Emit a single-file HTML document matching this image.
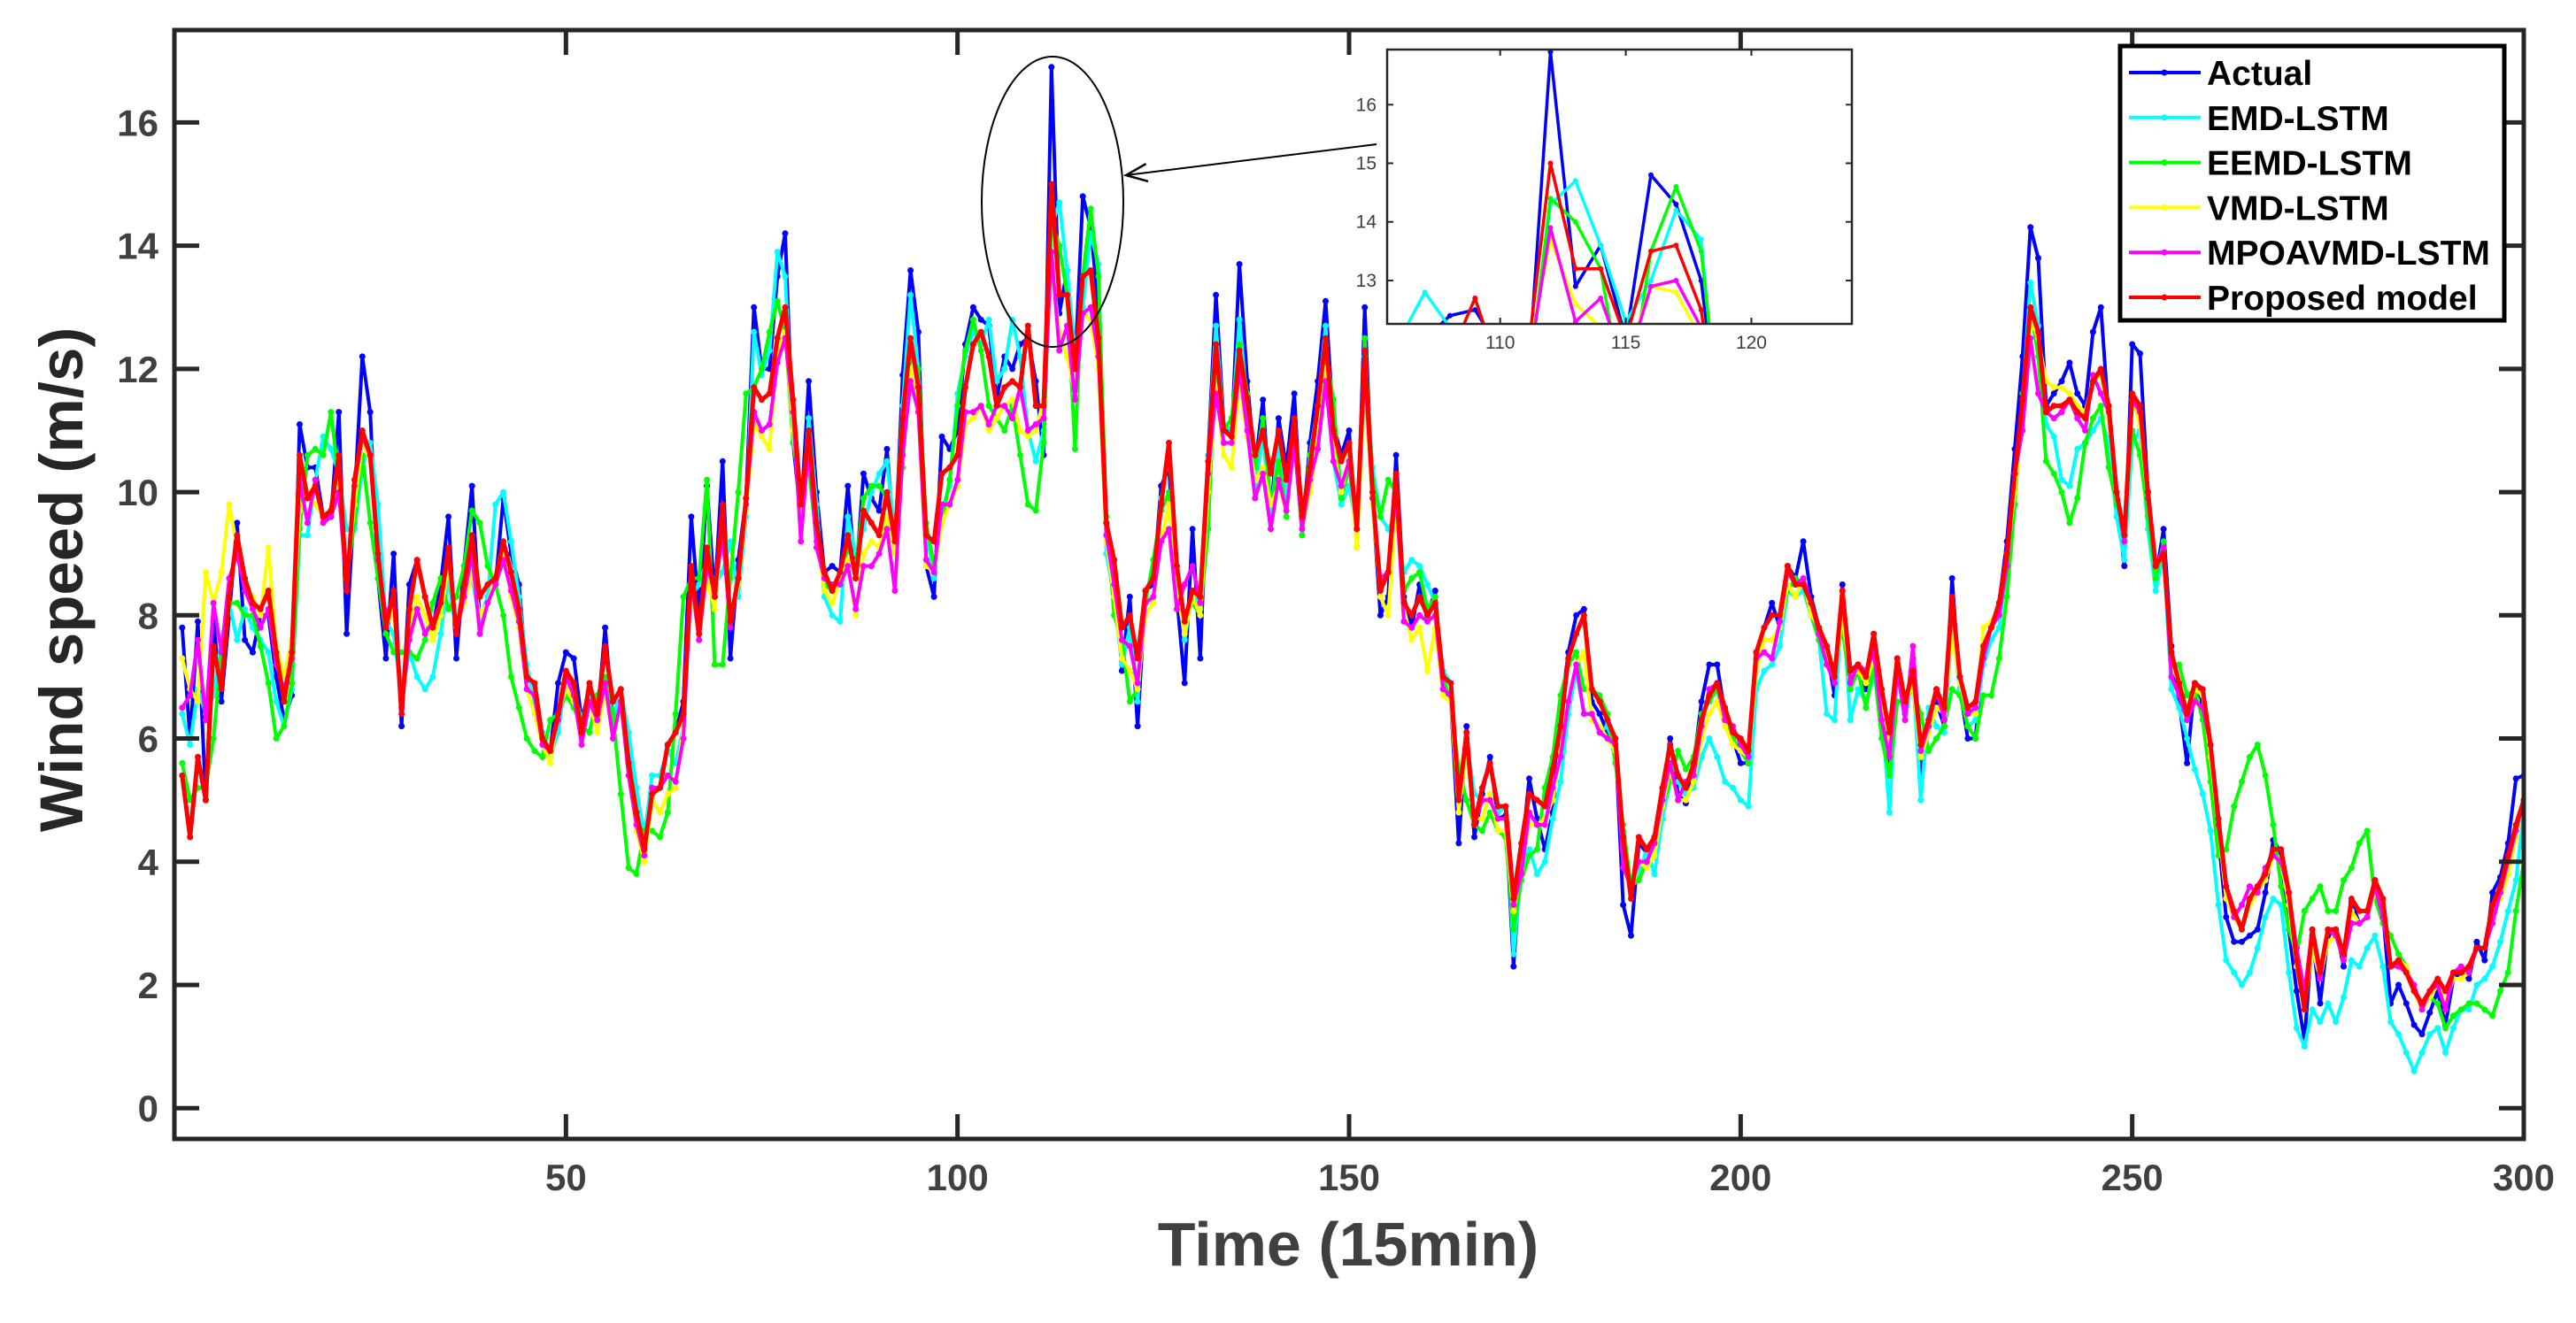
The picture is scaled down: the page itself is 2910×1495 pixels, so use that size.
<!DOCTYPE html>
<html><head><meta charset="utf-8"><style>
html,body{margin:0;padding:0;background:#fff;}
svg{display:block;font-family:"Liberation Sans",Arial,sans-serif;}
</style></head><body>
<svg id="chart" width="2910" height="1495" viewBox="0 0 2910 1495" xmlns="http://www.w3.org/2000/svg">
<defs>
<clipPath id="mainClip"><rect x="197" y="34" width="2654" height="1253"/></clipPath>
<clipPath id="insetClip"><rect x="1567" y="56" width="525" height="310"/></clipPath>
<marker id="arrowHead" markerWidth="28" markerHeight="24" refX="25" refY="12" orient="auto" markerUnits="userSpaceOnUse"><path d="M1,2 L25,12 L1,22" fill="none" stroke="#000" stroke-width="2.5"/></marker>
</defs>
<rect x="0" y="0" width="2910" height="1495" fill="#fff"/>
<g id="mainSeries" clip-path="url(#mainClip)"></g>
<g id="axes"></g>
<text x="93" y="655" transform="rotate(-90 93 655)" text-anchor="middle" font-size="69" font-weight="bold" fill="#262626">Wind speed (m/s)</text>
<text x="1523" y="1430" text-anchor="middle" font-size="70" font-weight="bold" fill="#404040">Time (15min)</text>
<ellipse cx="1189" cy="228" rx="80" ry="164" fill="none" stroke="#000" stroke-width="2"/>
<line x1="1555" y1="163" x2="1272" y2="198" stroke="#000" stroke-width="2" marker-end="url(#arrowHead)"/>
<rect x="1567" y="56" width="525" height="310" fill="#fff"/>
<g id="insetSeries" clip-path="url(#insetClip)"></g>
<g id="insetAxes"></g>
<g id="legend"></g>
</svg>
<script>
const seriesNames = ["Actual","EMD-LSTM","EEMD-LSTM","VMD-LSTM","MPOAVMD-LSTM","Proposed model"];
const seriesColors = ["#0000FF","#00FFFF","#00FF00","#FFFF00","#FF00FF","#FF0000"];
const xTicks = [50,100,150,200,250,300];
const yTicks = [0,2,4,6,8,10,12,14,16];
const insetXTicks = [110,115,120];
const insetYTicks = [13,14,15,16];
const actual = [7.8,6.0,7.9,5.0,7.9,6.6,8.0,9.5,7.6,7.4,
8.0,8.0,7.0,6.3,6.7,11.1,10.4,10.4,9.6,9.6,
11.3,7.7,9.9,12.2,11.3,8.6,7.3,9.0,6.2,8.5,
8.9,8.3,7.8,8.5,9.6,7.3,8.8,10.1,7.9,8.3,
8.5,9.9,9.0,8.5,7.0,6.8,6.0,5.8,6.9,7.4,
7.3,6.3,6.8,6.3,7.8,6.3,6.8,5.7,4.7,4.1,
5.2,5.2,5.9,6.1,6.6,9.6,8.0,10.1,8.3,10.5,
7.3,8.9,9.9,13.0,12.0,12.0,13.5,14.2,10.8,9.6,
11.8,10.0,8.7,8.8,8.7,10.1,8.6,10.3,9.9,9.7,
10.7,9.0,11.9,13.6,12.6,8.8,8.3,10.9,10.7,11.0,
12.4,13.0,12.8,12.7,11.5,12.2,12.0,12.4,12.5,11.8,
10.6,16.9,12.9,13.6,12.0,14.8,14.3,13.0,9.5,8.9,
7.1,8.3,6.2,8.4,8.5,10.1,10.4,8.3,6.9,9.4,
7.3,10.6,13.2,11.1,10.9,13.7,11.8,10.4,11.5,9.6,
11.2,10.4,11.6,9.3,10.8,11.8,13.1,11.1,10.6,11.0,
9.1,13.0,9.9,8.0,8.3,10.6,8.3,7.8,8.5,8.0,
8.4,6.8,6.6,4.3,6.2,4.4,5.1,5.7,4.7,4.75,
2.3,4.1,5.35,4.7,4.2,4.8,6.4,7.4,8.0,8.1,
6.6,6.4,6.1,6.0,3.3,2.8,4.3,4.15,4.4,5.1,
6.0,5.1,4.95,5.6,6.6,7.2,7.2,6.4,6.0,5.6,
5.6,7.4,7.8,8.2,7.8,8.8,8.6,9.2,8.3,7.8,
7.4,6.7,8.5,6.8,7.2,6.8,7.7,6.6,5.4,7.3,
6.4,7.3,5.35,6.2,6.6,6.2,8.6,6.8,6.0,6.0,
7.5,7.8,8.2,9.2,10.7,12.2,14.3,13.8,11.4,11.6,
11.8,12.1,11.6,11.4,12.6,13.0,11.2,9.9,8.8,12.4,
12.25,10.0,8.6,9.4,7.5,6.6,5.6,6.9,6.6,5.5,
4.4,3.1,2.7,2.7,2.8,2.9,3.5,4.35,4.15,2.9,
1.9,1.1,2.8,1.7,2.8,2.9,2.3,3.35,3.0,3.1,
3.7,3.2,1.7,2.0,1.7,1.35,1.2,1.55,1.9,1.35,
2.1,2.2,2.1,2.7,2.4,3.5,3.75,4.3,5.35,5.4];
const emdLstm = [6.4,5.9,6.8,6.4,6.7,7.6,8.2,7.6,8.1,7.8,
7.6,7.4,6.6,6.2,6.8,9.3,9.3,10.2,10.9,10.7,
10.3,9.4,9.4,10.4,10.8,9.8,7.9,7.7,6.7,7.4,
7.0,6.8,7.0,7.7,8.6,7.7,8.4,8.6,7.9,8.3,
9.8,10.0,9.2,8.3,7.2,6.6,6.1,5.7,6.1,7.0,
6.8,6.3,6.7,6.2,6.9,6.3,6.8,6.1,5.2,4.4,
5.4,5.4,5.8,5.6,6.2,8.3,8.5,8.9,8.5,8.7,
9.2,8.3,9.6,12.6,11.9,12.3,13.9,13.5,11.0,9.6,
11.2,9.8,8.3,8.0,7.9,9.6,9.0,9.4,10.0,10.3,
10.5,9.3,11.4,13.2,12.0,9.4,8.6,9.7,10.1,11.6,
12.2,12.6,12.4,12.8,11.8,12.0,12.8,12.2,11.0,10.5,
11.0,14.3,14.7,13.6,12.3,13.0,14.2,13.7,9.0,8.3,
7.2,7.8,6.6,8.4,8.6,9.9,10.6,8.8,7.6,8.4,
8.1,10.6,12.7,11.1,11.0,12.8,11.4,10.1,10.9,9.6,
10.8,9.9,11.0,9.3,10.6,11.4,12.7,10.5,9.8,10.1,
9.4,12.2,10.4,9.6,9.4,9.6,8.7,8.9,8.8,8.5,
8.2,7.1,6.9,5.2,6.0,5.1,5.0,5.0,4.8,4.9,
2.5,3.9,4.2,3.8,4.0,4.7,5.3,6.4,7.1,6.4,
6.4,6.1,6.2,5.8,4.5,3.6,3.8,4.2,3.8,4.7,
5.3,5.3,5.1,5.2,5.7,6.0,5.7,5.3,5.2,5.0,
4.9,6.8,7.1,7.2,7.5,8.4,8.3,8.4,8.0,7.6,
6.4,6.3,8.3,6.3,6.8,6.6,7.0,6.5,4.8,7.1,
6.3,7.0,5.0,6.5,6.2,6.1,7.8,6.8,6.2,6.3,
7.2,7.6,7.8,8.8,10.0,11.5,13.4,12.7,11.1,10.9,
10.2,10.1,10.7,10.8,11.0,11.2,10.8,9.6,8.9,10.8,
11.0,9.4,8.4,9.0,6.8,6.5,6.0,5.5,5.1,4.5,
3.3,2.4,2.2,2.0,2.2,2.6,3.1,3.4,3.3,2.2,
1.3,1.0,1.6,1.4,1.7,1.4,1.8,2.4,2.3,2.6,
2.8,2.3,1.4,1.2,0.9,0.6,0.9,1.2,1.3,0.9,
1.3,1.6,1.6,2.0,2.1,2.3,2.7,3.2,3.7,4.8];
const eemdLstm = [5.6,5.0,5.2,5.2,6.0,7.4,8.2,8.2,8.0,8.0,
7.5,6.9,6.0,6.2,6.9,9.4,10.6,10.7,10.6,11.3,
10.2,8.6,9.5,10.6,9.5,8.6,7.7,7.4,7.4,7.4,
7.3,7.6,8.2,8.6,8.1,8.3,8.8,9.7,9.5,8.8,
8.5,8.0,7.0,6.5,6.0,5.8,5.7,6.3,6.4,6.7,
6.5,6.2,6.1,6.7,7.0,6.4,5.1,3.9,3.8,4.5,
4.5,4.4,4.8,6.4,8.3,8.6,8.6,10.2,7.2,7.2,
8.6,10.0,11.6,11.7,12.0,12.6,13.1,12.6,10.8,10.0,
10.4,9.2,8.5,8.4,8.6,9.1,8.8,9.9,10.1,10.1,
9.9,9.3,10.4,12.2,12.0,9.5,8.8,9.5,10.2,11.4,
12.3,12.8,12.3,11.4,11.2,11.0,11.4,10.6,9.8,9.7,
10.8,14.4,14.0,13.2,10.7,13.5,14.6,13.5,9.6,8.0,
7.6,6.6,6.8,8.2,8.9,9.7,10.0,8.4,8.0,8.2,
8.0,9.4,12.2,11.0,11.2,12.4,11.6,10.4,11.2,9.8,
10.5,9.6,10.9,9.3,10.6,11.3,12.3,11.5,9.9,10.4,
9.4,12.5,10.2,9.6,10.2,10.0,8.4,8.6,8.7,8.1,
8.3,7.0,6.6,5.5,5.0,4.6,4.5,4.8,4.5,4.4,
2.9,3.7,4.1,4.2,5.2,5.7,6.7,7.2,7.4,6.8,
6.8,6.7,6.4,5.6,4.6,3.6,3.7,4.0,4.3,4.9,
5.3,5.8,5.5,5.7,6.4,6.6,6.8,6.3,6.0,5.8,
5.6,7.3,7.6,7.6,7.8,8.4,8.6,8.5,8.0,7.6,
7.2,7.2,7.8,6.8,7.1,6.5,7.2,6.0,5.4,6.6,
6.6,6.8,6.4,5.8,6.0,6.2,6.8,6.7,6.2,6.0,
6.7,6.7,7.3,8.3,9.8,11.6,13.0,12.2,10.5,10.3,
10.0,9.5,9.9,10.8,11.2,11.4,10.4,9.8,9.5,11.0,
10.6,9.6,8.6,9.2,7.2,7.2,6.7,6.8,6.3,5.3,
4.1,4.2,4.9,5.3,5.7,5.9,5.4,4.6,3.6,2.9,
2.5,3.2,3.4,3.6,3.2,3.2,3.7,3.9,4.3,4.5,
3.4,3.0,2.8,2.5,2.3,1.9,1.6,1.8,1.7,1.3,
1.5,1.6,1.7,1.7,1.6,1.5,1.9,2.2,3.2,4.0];
const vmdLstm = [7.3,6.8,6.6,8.7,8.2,8.7,9.8,9.1,8.5,8.3,
8.0,9.1,7.5,7.0,7.6,9.7,10.0,9.8,9.6,9.7,
10.4,8.6,9.8,10.8,10.5,9.0,7.8,8.1,6.6,7.8,
8.3,8.0,7.6,8.0,8.8,7.8,8.2,8.7,8.0,8.2,
8.6,9.0,8.3,7.8,6.8,6.4,5.9,5.6,6.4,6.8,
6.6,6.2,6.6,6.1,6.8,6.0,6.6,5.4,4.5,4.0,
5.0,4.8,5.1,5.2,6.2,8.4,7.7,8.6,8.1,9.6,
7.9,8.5,9.7,11.1,10.9,10.7,12.3,12.6,11.0,9.7,
10.8,9.3,8.4,8.2,8.6,8.9,8.0,9.0,9.2,9.1,
9.6,9.0,10.6,12.0,11.3,8.8,8.7,9.5,9.8,10.1,
11.1,11.2,11.4,11.0,11.2,11.4,11.5,11.0,10.9,11.0,
11.5,13.7,12.6,12.2,11.6,12.9,12.8,12.0,9.2,8.3,
7.3,7.1,6.8,8.0,8.2,9.2,9.8,8.4,7.7,8.3,
8.0,10.0,11.7,10.6,10.4,11.8,10.9,10.2,10.4,9.8,
10.1,9.7,10.9,9.4,10.0,10.8,12.0,10.7,10.0,10.6,
9.1,11.8,9.8,8.3,8.0,9.8,8.1,7.6,7.8,7.1,
7.8,6.7,6.6,4.8,5.8,4.7,4.7,5.1,4.5,4.5,
3.2,3.9,4.6,4.6,4.7,5.0,5.8,6.6,7.2,7.4,
6.3,6.2,6.0,5.8,4.2,3.5,4.0,3.9,4.1,4.9,
5.5,5.0,5.0,5.3,6.0,6.4,6.6,6.2,5.9,5.8,
5.7,7.1,7.6,7.6,7.8,8.5,8.3,8.6,8.0,7.8,
7.4,7.0,8.0,7.0,7.1,6.9,7.3,6.6,6.0,7.0,
6.5,6.9,5.7,6.1,6.5,6.4,7.7,6.9,6.4,6.4,
7.8,7.9,8.1,9.0,10.0,11.3,12.8,12.5,11.8,11.7,
11.7,11.6,11.4,11.3,11.8,11.9,11.2,10.0,9.4,11.5,
11.1,9.9,8.8,9.0,7.2,6.9,6.3,6.8,6.7,5.7,
4.6,3.4,3.1,2.9,3.3,3.5,3.7,4.1,4.0,3.3,
2.3,1.6,2.6,2.1,2.7,2.8,2.4,3.2,3.0,3.1,
3.5,3.3,2.3,2.4,2.3,1.9,1.6,1.8,2.0,1.7,
2.1,2.1,2.2,2.6,2.6,3.1,3.4,3.8,4.4,5.0];
const mpoavmdLstm = [6.5,6.7,7.6,6.3,8.2,7.4,8.6,9.0,8.4,8.1,
7.8,8.1,7.2,6.8,7.3,10.2,9.5,10.2,9.5,9.6,
10.0,8.4,10.1,10.9,10.6,8.9,8.0,8.3,6.5,7.6,
8.1,7.7,7.9,8.2,9.0,7.7,8.3,9.0,7.7,8.2,
8.5,8.9,8.4,7.9,6.8,6.7,5.9,5.8,6.3,7.0,
6.7,5.9,6.6,6.3,6.9,6.0,6.6,5.4,4.6,4.1,
5.2,5.2,5.4,5.3,6.0,8.6,7.6,8.8,8.4,9.3,
7.8,8.6,9.8,11.3,11.0,11.1,12.1,12.5,11.3,9.2,
10.8,9.1,8.6,8.5,8.5,8.8,8.1,8.8,8.8,9.0,
9.4,8.4,10.6,11.8,11.3,8.9,8.7,9.8,9.8,10.2,
11.3,11.3,11.4,11.1,11.4,11.4,11.2,11.7,11.0,11.1,
11.2,13.9,12.3,12.7,11.5,12.9,13.0,12.2,9.3,8.5,
7.6,7.5,6.9,8.2,8.3,9.2,9.4,8.1,8.5,8.8,
8.2,10.3,11.6,10.8,10.8,12.0,11.0,9.9,10.3,9.4,
10.2,9.7,10.8,9.4,10.2,10.7,11.8,10.5,10.1,10.5,
9.4,12.0,9.9,8.6,8.7,10.0,7.9,7.8,8.0,7.9,
8.0,6.8,6.7,5.0,6.0,4.6,5.0,5.0,4.7,4.7,
3.3,3.8,4.8,4.6,4.6,5.2,5.7,6.6,7.2,6.4,
6.4,6.1,6.0,5.9,3.9,3.6,4.0,4.0,4.3,5.0,
5.6,5.0,5.3,5.4,6.2,6.8,6.9,6.3,6.2,5.9,
5.7,7.3,7.4,7.3,7.9,8.7,8.5,8.6,8.2,7.7,
7.2,6.9,8.4,6.9,7.2,7.1,7.4,6.3,5.7,7.1,
6.3,7.5,5.8,6.2,6.8,6.3,8.2,7.0,6.4,6.5,
7.3,7.8,8.0,8.8,10.3,11.0,12.5,11.6,11.3,11.2,
11.3,11.5,11.2,11.0,11.9,11.6,11.3,10.0,9.2,11.5,
11.3,9.9,8.8,9.1,7.0,6.7,6.3,6.6,6.5,5.9,
4.6,3.6,3.1,3.3,3.6,3.5,3.9,4.1,4.0,3.5,
2.6,1.9,2.9,2.1,2.9,2.8,2.4,3.0,3.0,3.1,
3.6,3.1,2.3,2.3,2.2,2.0,1.6,1.9,2.0,1.6,
2.2,2.3,2.2,2.6,2.6,3.0,3.5,4.0,4.5,5.0];
const proposed = [5.4,4.4,5.7,5.0,7.5,6.8,8.3,9.3,8.6,8.2,
8.1,8.4,7.4,6.6,7.4,10.6,9.9,10.1,9.6,9.7,
10.6,8.4,10.2,11.0,10.6,9.0,7.8,8.4,6.4,8.1,
8.9,8.3,7.8,8.2,9.1,7.7,8.5,9.3,8.3,8.5,
8.6,9.2,8.7,8.1,7.0,6.9,6.0,5.8,6.4,7.1,
6.9,6.1,6.9,6.4,7.5,6.6,6.8,5.6,4.8,4.2,
5.1,5.2,5.9,6.1,6.4,8.8,7.7,9.1,8.3,9.8,
7.9,8.6,9.9,11.7,11.5,11.6,12.5,13.0,11.5,9.8,
11.0,9.5,8.7,8.4,8.7,9.3,8.6,9.7,9.5,9.3,
10.0,9.2,11.2,12.5,11.7,9.3,9.2,10.3,10.4,10.6,
11.7,12.4,12.6,12.2,11.4,11.7,11.8,11.7,12.7,11.4,
11.4,15.0,13.2,13.2,12.0,13.5,13.6,12.5,9.5,8.9,
7.8,8.0,7.3,8.4,8.6,9.8,10.8,8.8,7.9,8.4,
8.3,10.5,12.4,11.0,10.9,12.3,11.5,10.6,11.0,10.3,
11.0,10.2,11.2,9.6,10.4,11.4,12.5,11.0,10.5,10.8,
9.4,12.3,10.0,8.4,8.7,10.3,8.2,8.0,8.3,8.0,
8.2,7.0,6.9,5.0,6.1,4.6,5.2,5.6,4.9,4.9,
3.4,4.3,5.1,5.0,4.9,5.5,6.2,7.3,7.7,8.0,
6.8,6.6,6.3,6.0,4.4,3.4,4.4,4.2,4.4,5.2,
5.9,5.4,5.2,5.6,6.3,6.7,6.9,6.5,6.1,6.0,
5.8,7.4,7.8,8.0,8.0,8.8,8.5,8.5,8.2,7.8,
7.5,7.0,8.4,7.1,7.2,7.0,7.7,6.8,6.1,7.3,
6.6,7.1,5.9,6.3,6.8,6.5,8.3,7.0,6.5,6.6,
7.5,7.8,8.2,9.0,10.3,11.5,13.0,12.6,11.3,11.4,
11.4,11.5,11.3,11.2,11.8,12.0,11.4,10.0,9.3,11.6,
11.4,10.0,8.8,9.0,7.4,6.9,6.4,6.9,6.8,5.9,
4.7,3.6,3.2,2.9,3.4,3.6,3.8,4.2,4.2,3.5,
2.4,1.6,2.9,2.2,2.9,2.9,2.5,3.4,3.2,3.2,
3.7,3.4,2.3,2.4,2.2,1.9,1.7,1.9,2.1,1.9,
2.2,2.2,2.3,2.6,2.6,3.3,3.6,4.1,4.6,5.0];
const allSeries = [actual, emdLstm, eemdLstm, vmdLstm, mpoavmdLstm, proposed];

const NS = "http://www.w3.org/2000/svg";
const PL = 197, PR = 2851, PT = 34, PB = 1287;
const xMin = 0, xMax = 300, yMin = -0.5, yMax = 17.5;
function xScale(t){ return PL + (t - xMin) / (xMax - xMin) * (PR - PL); }
function yScale(v){ return PB - (v - yMin) / (yMax - yMin) * (PB - PT); }
const IL = 1567, IR = 2092, IT = 56, IB = 366;
const ixMin = 105.5, ixMax = 124, iyMin = 12.26, iyMax = 16.94;
function ixScale(t){ return IL + (t - ixMin) / (ixMax - ixMin) * (IR - IL); }
function iyScale(v){ return IB - (v - iyMin) / (iyMax - iyMin) * (IB - IT); }

function mk(tag, attrs){ const e = document.createElementNS(NS, tag); for (const k in attrs) e.setAttribute(k, attrs[k]); return e; }

function drawSeries(group, data, color, xs, ys, lw, mr, prefix){
  let d = "";
  data.forEach((v,i)=>{ d += (i? "L":"M") + xs(i+1).toFixed(1) + "," + ys(v).toFixed(1); });
  const p = mk("path", {d: d, fill: "none", stroke: color, "stroke-width": lw, "stroke-linejoin": "round"});
  
  
  group.appendChild(p);
  data.forEach((v,i)=>{
    const c = mk("circle", {cx: xs(i+1).toFixed(1), cy: ys(v).toFixed(1), r: mr, fill: color});
    
    
    group.appendChild(c);
  });
}

const mainG = document.getElementById("mainSeries");
const insetG = document.getElementById("insetSeries");
const slugs = ["actual","emd-lstm","eemd-lstm","vmd-lstm","mpoavmd-lstm","proposed-model"];
allSeries.forEach((s,k)=>{
  drawSeries(mainG, s, seriesColors[k], xScale, yScale, k===5?5:4, 3.5, slugs[k]);
  drawSeries(insetG, s, seriesColors[k], ixScale, iyScale, 3.5, 3, 'inset-' + slugs[k]);
});

const ax = document.getElementById("axes");
const frame = mk("rect", {x: PL, y: PT, width: PR-PL, height: PB-PT, fill: "none", stroke: "#262626", "stroke-width": 5});


ax.appendChild(frame);
xTicks.forEach(t=>{
  const x = xScale(t);
  const tb = mk("line", {x1: x, y1: PB, x2: x, y2: PB-28, stroke: "#262626", "stroke-width": 5});
  
  
  ax.appendChild(tb);
  const tt = mk("line", {x1: x, y1: PT, x2: x, y2: PT+28, stroke: "#262626", "stroke-width": 5});
  
  
  ax.appendChild(tt);
  const lb = mk("text", {x: x, y: 1345, "text-anchor": "middle", "font-size": 42, "font-weight": "bold", fill: "#404040"});
  lb.textContent = String(t);
  
  
  ax.appendChild(lb);
});
yTicks.forEach(v=>{
  const y = yScale(v);
  const tl = mk("line", {x1: PL, y1: y, x2: PL+28, y2: y, stroke: "#262626", "stroke-width": 5});
  
  
  ax.appendChild(tl);
  const tr = mk("line", {x1: PR, y1: y, x2: PR-28, y2: y, stroke: "#262626", "stroke-width": 5});
  
  
  ax.appendChild(tr);
  const lb = mk("text", {x: 179, y: y+15, "text-anchor": "end", "font-size": 42, "font-weight": "bold", fill: "#404040"});
  lb.textContent = String(v);
  
  
  ax.appendChild(lb);
});

const ia = document.getElementById("insetAxes");
const iframe = mk("rect", {x: IL, y: IT, width: IR-IL, height: IB-IT, fill: "none", stroke: "#262626", "stroke-width": 2.5});


ia.appendChild(iframe);
insetXTicks.forEach(t=>{
  const x = ixScale(t);
  const a = mk("line", {x1: x, y1: IB, x2: x, y2: IB-7, stroke: "#262626", "stroke-width": 2});
  
  
  ia.appendChild(a);
  const b = mk("line", {x1: x, y1: IT, x2: x, y2: IT+7, stroke: "#262626", "stroke-width": 2});
  
  
  ia.appendChild(b);
  const lb = mk("text", {x: x, y: IB+28, "text-anchor": "middle", "font-size": 21, fill: "#404040"});
  lb.textContent = String(t);
  
  
  ia.appendChild(lb);
});
insetYTicks.forEach(v=>{
  const y = iyScale(v);
  const a = mk("line", {x1: IL, y1: y, x2: IL+7, y2: y, stroke: "#262626", "stroke-width": 2});
  
  
  ia.appendChild(a);
  const b = mk("line", {x1: IR, y1: y, x2: IR-7, y2: y, stroke: "#262626", "stroke-width": 2});
  
  
  ia.appendChild(b);
  const lb = mk("text", {x: IL-12, y: y+7, "text-anchor": "end", "font-size": 21, fill: "#404040"});
  lb.textContent = String(v);
  
  
  ia.appendChild(lb);
});

const lg = document.getElementById("legend");
const lbox = mk("rect", {x: 2395, y: 52, width: 434, height: 310, fill: "#fff", stroke: "#000", "stroke-width": 5});


lg.appendChild(lbox);
seriesNames.forEach((n,k)=>{
  const y = 82 + k*50.8;
  const ln = mk("line", {x1: 2405, y1: y, x2: 2486, y2: y, stroke: seriesColors[k], "stroke-width": 4});
  
  
  lg.appendChild(ln);
  const dot = mk("circle", {cx: 2445, cy: y, r: 3.5, fill: seriesColors[k]});
  
  
  lg.appendChild(dot);
  const tx = mk("text", {x: 2493, y: y+14, "font-size": 39, "font-weight": "bold", fill: "#000"});
  tx.textContent = n;
  
  
  lg.appendChild(tx);
});
</script>
</body></html>
